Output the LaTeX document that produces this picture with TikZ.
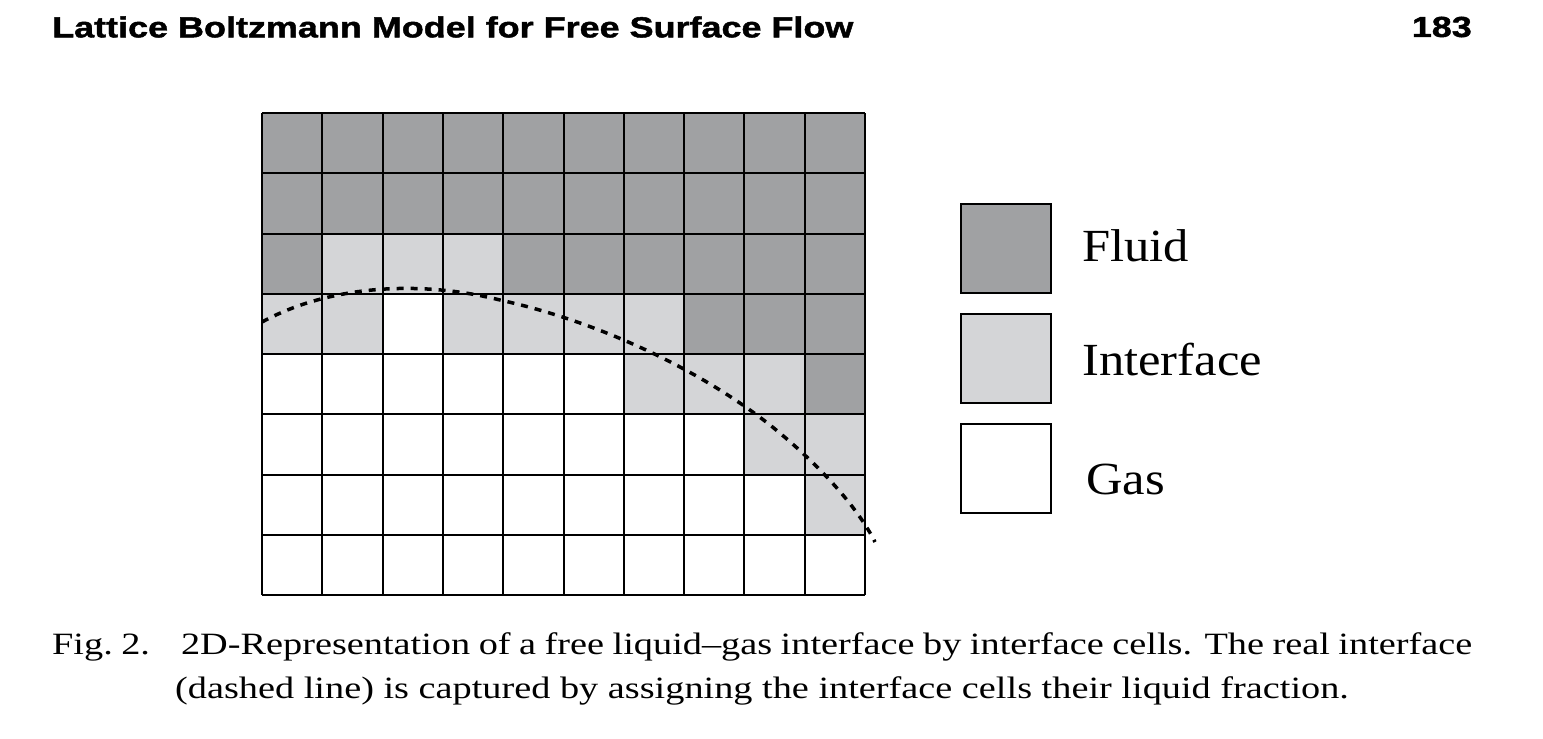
\documentclass[tikz,border=0pt]{standalone}
\usepackage{fontspec}
\setmainfont{Liberation Serif}
\newfontfamily\hdr[FakeStretch=1.24,FakeBold=1.5]{Liberation Sans}
\newfontfamily\capf[FakeStretch=1.235,Ligatures=TeX]{Liberation Serif}
\newfontfamily\legf[FakeStretch=1.1]{Liberation Serif}
\definecolor{fluidc}{HTML}{A0A1A3}
\definecolor{intc}{HTML}{D4D5D7}
\begin{document}
\begin{tikzpicture}[x=1pt,y=-1pt,
  legb/.style={draw=black,line width=2pt,minimum width=90pt,minimum height=89pt,inner sep=0pt},
  legt/.style={anchor=west,font=\legf\fontsize{46}{50}\selectfont,inner sep=0pt}]
\useasboundingbox (0,0) rectangle (1543,739);
\node[anchor=west,font=\hdr\bfseries\fontsize{29}{32}\selectfont,inner sep=0pt] (head) at (52,27) {Lattice Boltzmann Model for Free Surface Flow};
\node[anchor=east,font=\hdr\bfseries\fontsize{29}{32}\selectfont,inner sep=0pt] (pg) at (1472,27) {183};
\def\cw{60.3}\def\ch{60.25}
\newcommand\cellfill[3]{\fill[#3] ({262+#1*\cw},{113+#2*\ch}) rectangle ++(\cw,\ch);}
\foreach \c in {0,...,9}{\cellfill{\c}{0}{fluidc}\cellfill{\c}{1}{fluidc}}
\cellfill{0}{2}{fluidc}
\foreach \c in {1,2,3}{\cellfill{\c}{2}{intc}}
\foreach \c in {4,...,9}{\cellfill{\c}{2}{fluidc}}
\foreach \c in {0,1,3,4,5,6}{\cellfill{\c}{3}{intc}}
\foreach \c in {7,8,9}{\cellfill{\c}{3}{fluidc}}
\foreach \c in {6,7,8}{\cellfill{\c}{4}{intc}}
\cellfill{9}{4}{fluidc}
\cellfill{8}{5}{intc}\cellfill{9}{5}{intc}
\cellfill{9}{6}{intc}
\foreach \c in {0,...,10}{\draw[line width=2pt] ({262+\c*\cw},113) -- ({262+\c*\cw},595);}
\foreach \r in {0,...,8}{\draw[line width=2pt] (262,{113+\r*\ch}) -- (865,{113+\r*\ch});}
\draw[line width=3.5pt,dash pattern=on 7pt off 7pt] (262,322) .. controls (330,285) and (420,280) .. (500,300)
  .. controls (600,322) and (700,370) .. (770,425) .. controls (820,465) and (858,508) .. (875,542);
\node[legb,fill=fluidc,anchor=north west] (lf) at (960,203) {};
\node[legb,fill=intc,anchor=north west] (li) at (960,313) {};
\node[legb,fill=white,anchor=north west] (lg) at (960,423) {};
\node[legt] (tf) at (1082,246) {Fluid};
\node[legt] (ti) at (1082,360) {Interface};
\node[legt] (tg) at (1086,479) {Gas};
\node[anchor=west,font=\capf\fontsize{31}{34}\selectfont,inner sep=0pt] (cap1) at (52,647) {\makebox[1420pt][s]{Fig.\ 2.\quad 2D-Representation of a free liquid–gas interface by interface cells. The real interface}};
\node[anchor=west,font=\capf\fontsize{31}{34}\selectfont,inner sep=0pt] (cap2) at (175,691) {(dashed line) is captured by assigning the interface cells their liquid fraction.};
\end{tikzpicture}
\end{document}
